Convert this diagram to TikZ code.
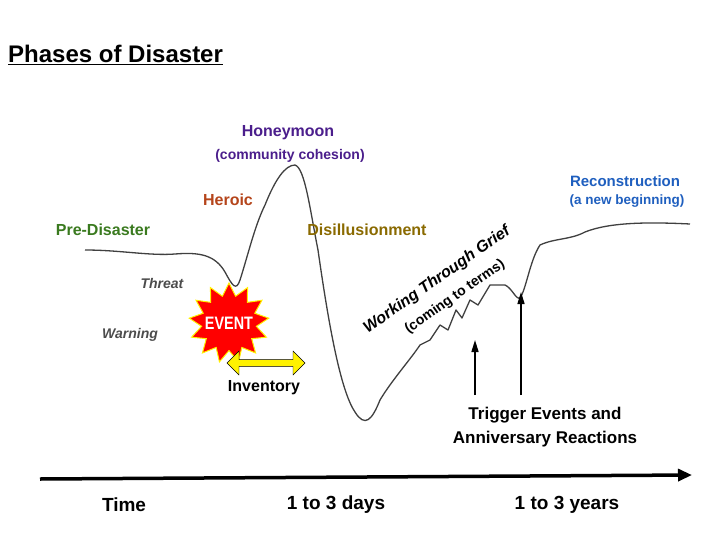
\documentclass[tikz,border=0pt]{standalone}
\usepackage{fontspec}
\setmainfont{Liberation Sans}
\usetikzlibrary{shapes.geometric,shapes.arrows,arrows.meta}
\definecolor{hmc}{HTML}{4B1E8C}
\definecolor{hec}{HTML}{B5451B}
\definecolor{pdc}{HTML}{3A7A1F}
\definecolor{dic}{HTML}{8A6A00}
\definecolor{rec}{HTML}{1F5FBF}
\begin{document}
\begin{tikzpicture}[x=1pt,y=-1pt,
  lbl/.style={font=\bfseries\fontsize{16}{18}\selectfont,inner sep=1pt},
  sml/.style={font=\bfseries\itshape\fontsize{14}{16}\selectfont,text=black!70,inner sep=1pt},
  axl/.style={font=\bfseries\fontsize{19}{22}\selectfont,inner sep=1pt}]
\useasboundingbox (0,0) rectangle (728,546);
\fill[white] (0,0) rectangle (728,546);
\node[anchor=west,font=\bfseries\fontsize{24}{28}\selectfont,inner sep=0pt] (title) at (8,55) {\underline{Phases of Disaster}};
% curve
\draw[black!75,line width=1.3pt,line join=round]
 (85,250) .. controls (120,250) and (150,256) .. (175,254)
 .. controls (200,252) and (215,255) .. (225,272)
 .. controls (232,285) and (236,292) .. (240,280)
 .. controls (248,255) and (255,225) .. (265,205)
 .. controls (275,180) and (285,165) .. (295,165)
 .. controls (305,168) and (310,210) .. (318,250)
 .. controls (328,320) and (340,390) .. (355,412)
 .. controls (365,428) and (372,420) .. (380,400)
 .. controls (392,380) and (410,360) .. (420,345)
 -- (430,340) -- (440,325) -- (448,330) -- (456,310) -- (462,318) -- (470,300) -- (478,305) -- (490,285) -- (505,285)
 .. controls (512,288) and (516,300) .. (520,298)
 .. controls (526,290) and (530,260) .. (540,245)
 .. controls (555,238) and (570,240) .. (585,232)
 .. controls (610,222) and (650,222) .. (690,224);
\node[lbl,text=hmc] (hm) at (288,133) {Honeymoon};
\node[lbl,text=hmc,font=\bfseries\fontsize{14}{16}\selectfont] (hm2) at (290,156) {(community cohesion)};
\node[lbl,text=hec] (he) at (228,200) {Heroic};
\node[lbl,text=pdc] (pd) at (103,230) {Pre-Disaster};
\node[lbl,text=dic] (di) at (367,230) {Disillusionment};
\node[lbl,text=rec,font=\bfseries\fontsize{15}{17}\selectfont] (re) at (625,181) {Reconstruction};
\node[lbl,text=rec,font=\bfseries\fontsize{13.5}{15}\selectfont] (re2) at (627,201) {(a new beginning)};
\node[sml] (th) at (162,283) {Threat};
\node[sml] (wa) at (130,335) {Warning};
\node[font=\bfseries\itshape\fontsize{16}{18}\selectfont,rotate=35] (wt) at (437,280) {Working Through Grief};
\node[font=\bfseries\fontsize{14}{16}\selectfont,rotate=35] (ct) at (455,297) {(coming to terms)};
\node[star,star points=13,star point ratio=1.45,fill=red,draw=yellow,line width=1pt,minimum size=80pt,inner sep=0pt] (ev) at (229,323) {};
\node[text=white,font=\bfseries\fontsize{18}{20}\selectfont,xscale=0.8] (evt) at (229,323) {EVENT};
\node[double arrow,fill=yellow,draw=black,minimum height=78pt,minimum width=24pt,double arrow head extend=3pt,inner sep=1pt] (inv) at (266,363) {};
\node[lbl,font=\bfseries\fontsize{16}{18}\selectfont] (invl) at (264,388) {Inventory};
\node[lbl,fill=white,align=center,font=\bfseries\fontsize{17}{24}\selectfont,inner sep=3pt] (tr) at (545,427) {Trigger Events and\\Anniversary Reactions};
\coordinate (a1) at (475,340);
\coordinate (a2) at (521,292);
\draw[-{Triangle[length=12pt,width=7pt]},line width=1.5pt] (475,395) -- (a1);
\draw[-{Triangle[length=12pt,width=7pt]},line width=1.5pt] (521,395) -- (a2);
\coordinate (ax0) at (40,479);
\coordinate (ax1) at (692,475);
\draw[line width=3.5pt,-{Triangle[length=14pt,width=12pt]}] (ax0) -- (ax1);
\node[axl] (t1) at (124,505) {Time};
\node[axl] (t2) at (336,505) {1 to 3 days};
\node[axl] (t3) at (567,505) {1 to 3 years};
\end{tikzpicture}
\end{document}
